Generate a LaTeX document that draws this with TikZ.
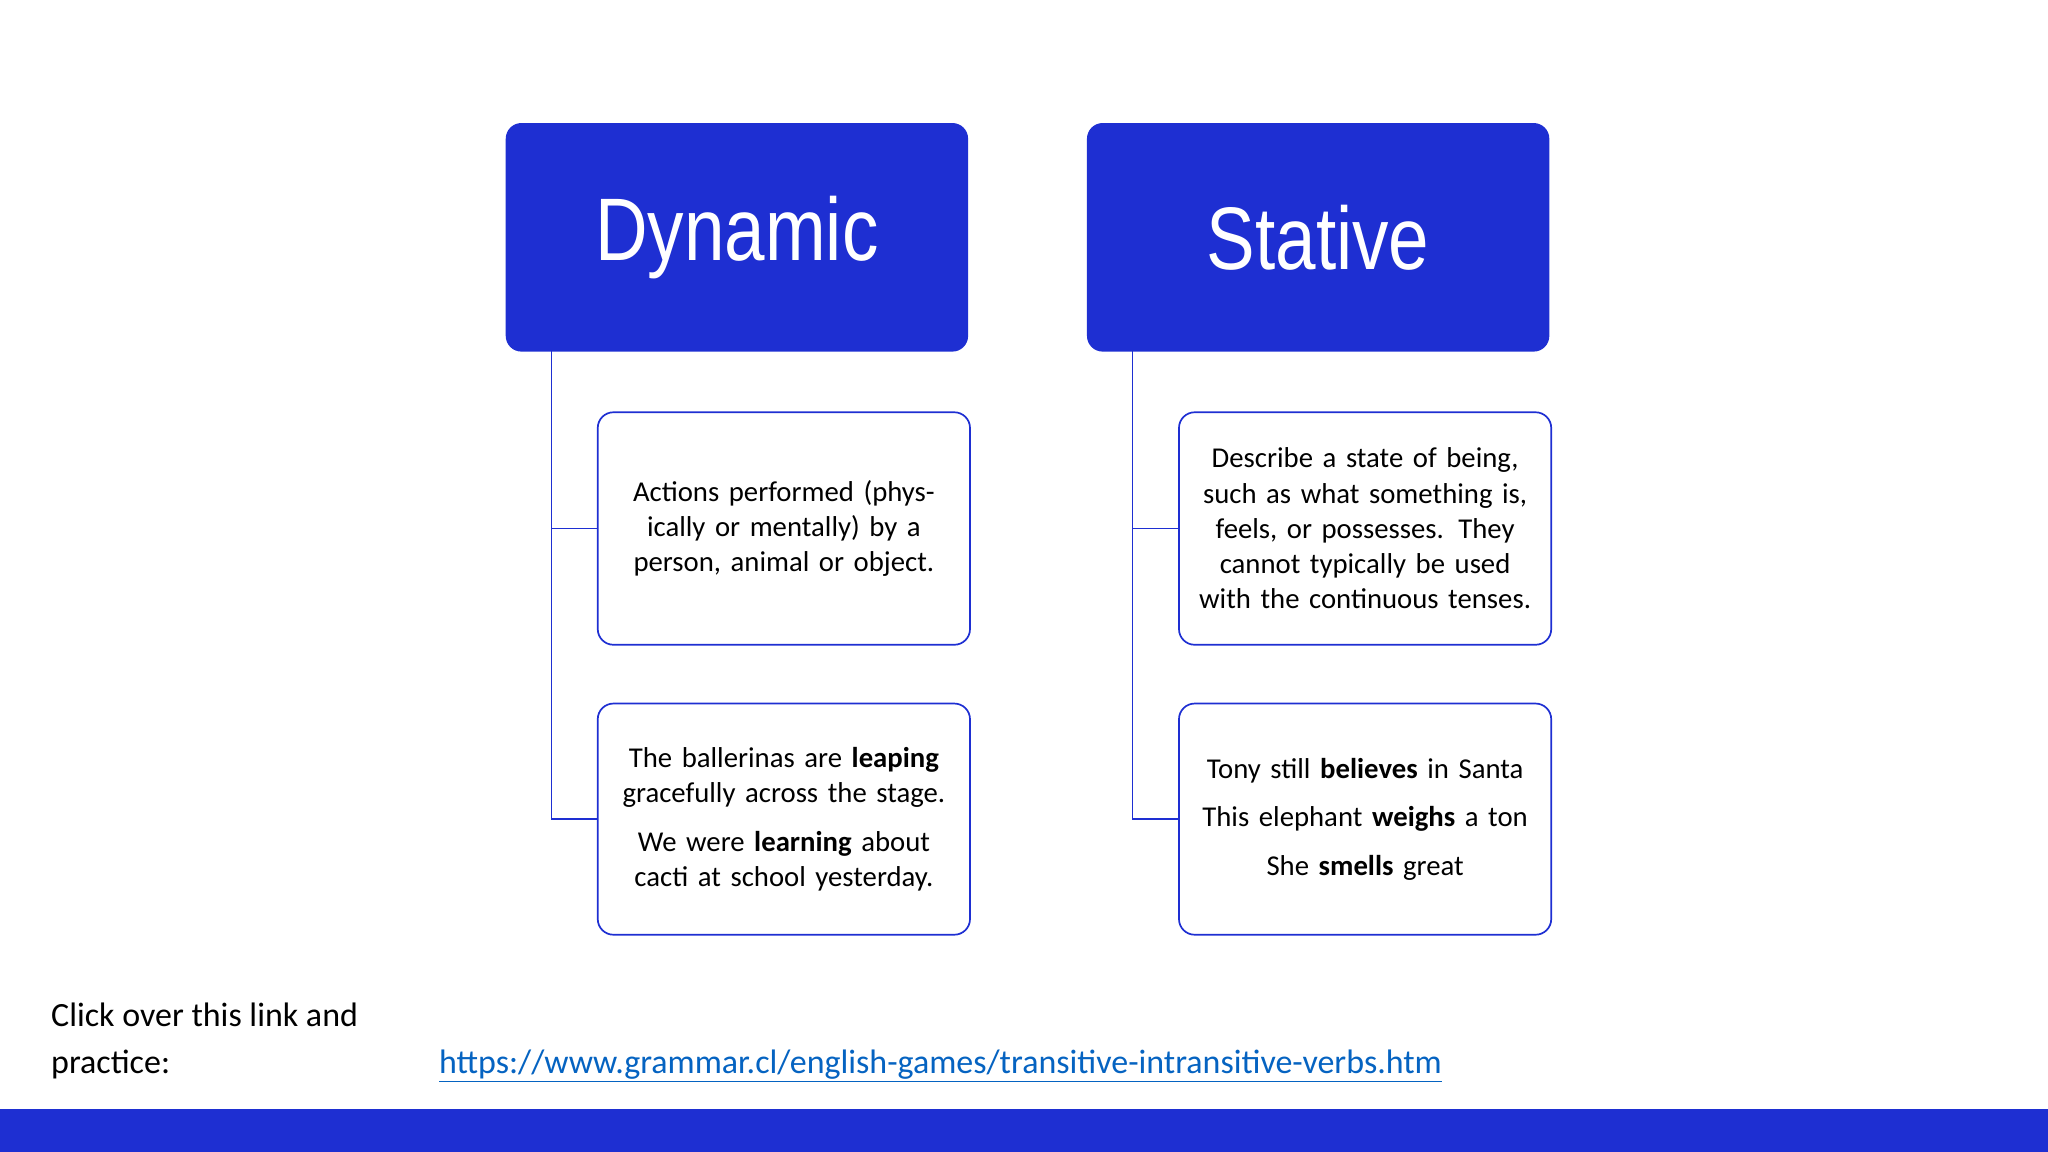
\documentclass[tikz,border=0pt]{standalone}
\usepackage{fontspec}
\setmainfont{Carlito}
\newfontfamily\titlefont[FakeStretch=0.82]{Liberation Sans}
\definecolor{mainblue}{HTML}{1E2FD2}
\definecolor{linkblue}{HTML}{0563C1}
\begin{document}
\begin{tikzpicture}[x=1pt,y=-1pt,
  head/.style={draw=none,fill=mainblue,rounded corners=12pt,minimum width=354pt,minimum height=175pt,anchor=north west,inner sep=0pt,text=white,font=\titlefont\fontsize{68}{70}\selectfont},
  child/.style={draw=mainblue,line width=1.3pt,fill=white,rounded corners=12pt,minimum width=285pt,minimum height=178pt,anchor=north west,inner sep=4pt,align=center,text width=276pt,font=\fontsize{22}{27}\selectfont},
  conn/.style={draw=mainblue,line width=1pt}]
\useasboundingbox (0,0) rectangle (1568,882);
\fill[mainblue] (0,849) rectangle (1568,882);
\node[head] (d) at (387,94) {Dynamic};
\node[head] (s) at (832,94) {Stative};
\node[child] (d1) at (457,315) {Actions performed (physically or mentally) by a person, animal or object.};
\node[child,minimum height=177pt] (d2) at (457,538) {The ballerinas are \textbf{leaping} gracefully across the stage.\\[10pt] We were \textbf{learning} about cacti at school yesterday.};
\node[child] (s1) at (902,315) {Describe a state of being, such as what something is, feels, or possesses. They cannot typically be used with the continuous tenses.};
\node[child,minimum height=177pt,font=\fontsize{22}{37}\selectfont] (s2) at (902,538) {Tony still \textbf{believes} in Santa\\ This elephant \textbf{weighs} a ton\\ She \textbf{smells} great};
\coordinate (dt) at (422,269);
\coordinate (st) at (867,269);
\draw[conn] (dt) |- (d2.west);
\draw[conn] (dt |- d1.west) -- (d1.west);
\draw[conn] (st) |- (s2.west);
\draw[conn] (st |- s1.west) -- (s1.west);
\node[anchor=north west,align=left,font=\fontsize{26}{36}\selectfont,inner sep=0pt] (click) at (39,768) {Click over this link and\\practice:};
\node[anchor=base west,inner sep=0pt,text=linkblue,font=\fontsize{26}{30}\selectfont] (link) at (336,822) {\underline{https://www.grammar.cl/english-games/transitive-intransitive-verbs.htm}};
\end{tikzpicture}
\end{document}
